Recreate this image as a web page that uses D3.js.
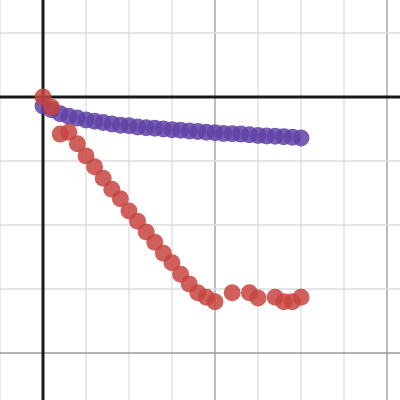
<!DOCTYPE html><html><head><script src="https://cdn.jsdelivr.net/npm/d3@7"></script>
<style>body{margin:0}svg{display:block}</style></head><body><script>
const redX=[0,0.2,0.4,0.6,0.8,1,1.2,1.4,1.6,1.8,2,2.2,2.4,2.6,2.8,3,3.2,3.4,3.6,3.8,4,4.4,4.8,5,5.4,5.6,5.8,6];
const redY=[0,-0.16,-0.58,-0.55,-0.73,-0.92,-1.09,-1.27,-1.44,-1.59,-1.78,-1.94,-2.11,-2.27,-2.44,-2.59,-2.77,-2.92,-3.06,-3.13,-3.2,-3.06,-3.06,-3.14,-3.13,-3.2,-3.2,-3.13];
const purX=d3.range(31).map(i=>i/5);
const purY=[-0.14,-0.2,-0.26,-0.3,-0.33,-0.36,-0.38,-0.4,-0.42,-0.44,-0.45,-0.47,-0.48,-0.49,-0.5,-0.51,-0.52,-0.53,-0.54,-0.55,-0.56,-0.57,-0.575,-0.58,-0.59,-0.6,-0.61,-0.615,-0.62,-0.63,-0.64];
const W=400,H=400;
const x=d3.scaleLinear().domain([-1,8.3023]).range([0,400]);
const y=d3.scaleLinear().domain([1.5156,-4.7344]).range([0,400]);
const svg=d3.select("body").append("svg").attr("width",W).attr("height",H);
svg.append("rect").attr("width",W).attr("height",H).attr("fill","#fff");
const xt=d3.range(-1,9),yt=d3.range(-4,2);
svg.selectAll(".gx").data(xt).join("line").attr("x1",d=>x(d)).attr("x2",d=>x(d)).attr("y1",0).attr("y2",H)
 .attr("stroke",d=>d%4===0&&d!==0?"#999":"#ddd").attr("stroke-width",d=>d%4===0?1.3:1.3);
svg.selectAll(".gy").data(yt).join("line").attr("y1",d=>y(d)).attr("y2",d=>y(d)).attr("x1",0).attr("x2",W)
 .attr("stroke",d=>d%4===0&&d!==0?"#999":"#ddd").attr("stroke-width",1.3);
svg.append("line").attr("x1",x(0)).attr("x2",x(0)).attr("y1",0).attr("y2",H).attr("stroke","#1a1a1a").attr("stroke-width",3);
svg.append("line").attr("y1",y(0)).attr("y2",y(0)).attr("x1",0).attr("x2",W).attr("stroke","#1a1a1a").attr("stroke-width",3);
svg.selectAll(".p").data(purX.map((d,i)=>[d,purY[i]])).join("circle").attr("cx",d=>x(d[0])).attr("cy",d=>y(d[1])).attr("r",8.5).attr("fill","#6042a6").attr("fill-opacity",0.85);
svg.selectAll(".r").data(redX.map((d,i)=>[d,redY[i]])).join("circle").attr("cx",d=>x(d[0])).attr("cy",d=>y(d[1])).attr("r",8.5).attr("fill","#c74440").attr("fill-opacity",0.85);
</script></body></html>
